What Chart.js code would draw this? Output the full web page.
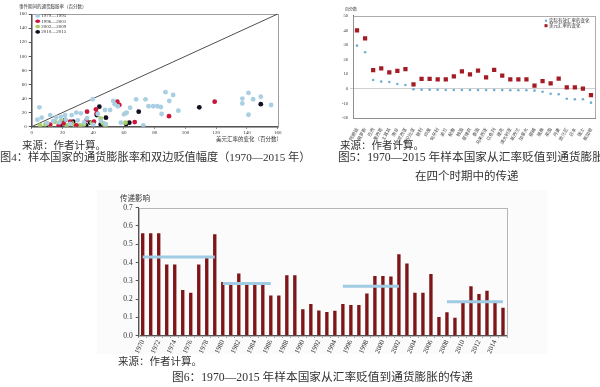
<!DOCTYPE html>
<html>
<head>
<meta charset="utf-8">
<script src="https://cdn.jsdelivr.net/npm/chart.js@4.4.1/dist/chart.umd.min.js"></script>
<style>
  body { margin: 0; width: 600px; height: 387px; background: #fff; position: relative; overflow: hidden;
         font-family: "Liberation Serif", "Noto Sans CJK SC", serif; color: #333; }
  .box { position: absolute; }
  .txt { position: absolute; white-space: nowrap; line-height: 1; }
</style>
</head>
<body>

<div class="box" style="left:97px;top:190px;width:450px;height:164px;background:#fbfbfb"></div>

<div class="box" style="left:0;top:0;width:290px;height:145px"><canvas id="scatterChart"></canvas></div>
<div class="box" style="left:300px;top:0;width:300px;height:145px"><canvas id="countryChart"></canvas></div>
<div class="box" style="left:100px;top:190px;width:420px;height:170px"><canvas id="passChart"></canvas></div>

<div class="txt" style="left:22px;top:141px;font-size:10.5px">来源：作者计算。</div>
<div class="txt" style="left:0;top:152px;font-size:11.2px">图4：样本国家的通货膨胀率和双边贬值幅度（1970—2015 年）</div>

<div class="txt" style="left:340px;top:141px;font-size:10.5px">来源：作者计算。</div>
<div class="txt" style="left:338px;top:152px;font-size:11.7px">图5：1970—2015 年样本国家从汇率贬值到通货膨胀</div>
<div class="txt" style="left:415px;top:171px;font-size:11.5px">在四个时期中的传递</div>

<div class="txt" style="left:118px;top:357px;font-size:10.5px">来源：作者计算。</div>
<div class="txt" style="left:172px;top:372px;font-size:11.7px">图6：1970—2015 年样本国家从汇率贬值到通货膨胀的传递</div>

<script>
/* =========================================================
   DATA
========================================================= */

// Fig 4 — [USD depreciation %, inflation %] per episode
const period7995 = [
  [5, 27.5], [3.7, 10], [6.5, 13], [12, 16.5], [16, 13], [19, 14], [21.7, 16.5], [26, 16.5],
  [29, 20], [32, 19], [39.7, 39], [43, 18], [47.7, 23.7], [51, 23.7], [53, 36.5], [54, 32],
  [56, 29], [58, 5.7], [60, 17.5], [61.8, 20], [64, 27], [67.9, 38.8], [74, 38.8], [72.6, 2],
  [76, 29], [79, 29], [81.7, 29], [84, 28], [84.5, 18], [87, 49], [89.5, 36.5], [92, 45],
  [95.4, 22.7], [137, 40], [137, 33], [141, 48], [141, 17], [144, 39], [149, 42.6], [155.7, 30.8],
  [10, 5], [14, 8], [18, 6], [22, 10], [25, 4], [30, 9], [34, 6], [36, 12], [40, 3], [45, 8], [48, 4]
];
const period9601 = [
  [55.7, 35.5], [57, 30.8], [36, 21.3], [41.8, 24.6], [42.3, 19], [67, 6.6], [89.3, 15], [119, 35.5],
  [20.6, 4.7], [25, 7], [29, 2], [35.8, 9.5], [40.5, 7], [12, 3], [17.5, 1.5]
];
const period0209 = [
  [44.9, 11.8], [61, 19], [61, 5.7], [31.4, 2], [15, 7], [19, 8], [22.6, 2], [26, 5.5],
  [28, 2], [39, 5.5], [46.5, 4.7], [9, 3.5], [12, 2], [5.5, 2], [34, 3], [48, 1.5]
];
const period1015 = [
  [44, 28.4], [48.3, 12.8], [42.3, 16.6], [69.6, 21.3], [109, 27.5], [149, 32], [61.4, 3.8],
  [63.5, 5.7], [44.9, 3.3], [38, 5.7], [35.3, 2], [21.7, 9.5], [18.4, 1.4], [10.8, 1.4], [27, 7]
];
const periodNames = ["1979—1995", "1996—2001", "2002—2009", "2010—2015"];
const diagonal = [0, 160];

// Fig 5 — per country
const countries = [
  "阿根廷", "俄罗斯", "巴西", "墨西哥", "土耳其", "南非", "印度尼西亚", "哥伦比亚", "智利", "印度",
  "匈牙利", "波兰", "秘鲁", "韩国", "菲律宾", "泰国", "马来西亚", "以色列", "捷克", "澳大利亚",
  "新西兰", "加拿大", "挪威", "瑞典", "英国", "丹麦", "欧元区", "日本", "瑞士", "新加坡"
];
const usdChange = [
  40, 34.5, 12.8, 14, 11.2, 12.2, 13.5, 3, 6.7, 6.7,
  6.5, 6.5, 8.5, 11.9, 9.9, 12.4, 7.8, 13, 9, 6.5,
  6.5, 6.5, 2.1, 5.3, 3.7, 6.9, 1, 1, 0.1, -4.3
];
const reerChange = [
  29.5, 25, 6, 4.9, 4.6, 3.3, 2.6, -0.4, -0.6, -0.6,
  -0.6, -0.8, -0.8, -0.8, -0.8, -0.9, -0.9, -0.9, -0.9, -1,
  -1, -1, -1.3, -2, -3.4, -3.8, -6.8, -7.2, -7.2, -9.5
];

// Fig 6 — pass-through by year
const years = [
  "1970", "1971", "1972", "1973", "1974", "1975", "1976", "1977", "1978", "1979",
  "1980", "1981", "1982", "1983", "1984", "1985", "1986", "1987", "1988", "1989",
  "1990", "1991", "1992", "1993", "1994", "1995", "1996", "1997", "1998", "1999",
  "2000", "2001", "2002", "2003", "2004", "2005", "2006", "2007", "2008", "2009",
  "2010", "2011", "2012", "2013", "2014", "2015"
];
const passThrough = [
  0.56, 0.56, 0.56, 0.39, 0.39, 0.25, 0.235, 0.39, 0.43, 0.555,
  0.293, 0.29, 0.34, 0.28, 0.28, 0.28, 0.22, 0.22, 0.33, 0.33,
  0.145, 0.173, 0.138, 0.129, 0.137, 0.173, 0.168, 0.168, 0.231, 0.326,
  0.326, 0.324, 0.446, 0.395, 0.235, 0.235, 0.337, 0.102, 0.128, 0.098,
  0.18, 0.27, 0.228, 0.246, 0.18, 0.153
];
const periodStart = ["1970", "1980", "1995", "2008"];
const periodEnd = ["1979", "1986", "2002", "2015"];
const periodMean = [0.43, 0.285, 0.27, 0.185];

/* =========================================================
   SMALL PLUGINS
========================================================= */

const SERIF = '"Liberation Serif", "Noto Sans CJK SC", serif';
const CJK = '"Noto Sans CJK SC", sans-serif';

// plain text notes (axis titles), canvas coords
function makeNotes(items) {
  return {
    id: "notes",
    afterDraw(chart) {
      const ctx = chart.ctx;
      items.forEach(n => {
        ctx.save();
        ctx.font = n.font;
        ctx.fillStyle = n.color || "#333";
        ctx.textAlign = n.align || "left";
        ctx.textBaseline = "middle";
        ctx.fillText(n.text, n.x, n.y);
        ctx.restore();
      });
    }
  };
}

// box around the plot area
function makeFrame(color, width) {
  return {
    id: "frame",
    beforeDatasetsDraw(chart) {
      const a = chart.chartArea, ctx = chart.ctx;
      ctx.save();
      ctx.strokeStyle = color;
      ctx.lineWidth = width;
      ctx.strokeRect(Math.round(a.left) + 0.5, Math.round(a.top) + 0.5,
        Math.round(a.right - a.left), Math.round(a.bottom - a.top));
      ctx.restore();
    }
  };
}

// legend inside the plot, offsets from the plot's top-left corner
function makeLegend(cfg) {
  return {
    id: "innerLegend",
    afterDraw(chart) {
      const ctx = chart.ctx;
      const a = chart.chartArea;
      const mx = a.left + cfg.dx;
      let row = 0;
      chart.data.datasets.forEach(ds => {
        if (!ds.label) return;
        const y = a.top + cfg.dy + row * cfg.step;
        ctx.save();
        ctx.fillStyle = ds.backgroundColor;
        if (ds.pointStyle === "rect") {
          ctx.fillRect(mx - 1.5, y - 1.5, 3, 3);
        } else {
          ctx.beginPath();
          ctx.ellipse(mx, y, cfg.mw, cfg.mh, 0, 0, Math.PI * 2);
          ctx.fill();
        }
        ctx.fillStyle = "#333";
        ctx.font = cfg.font;
        ctx.textAlign = "left";
        ctx.textBaseline = "middle";
        ctx.fillText(ds.label, mx + cfg.gap, y);
        ctx.restore();
        row++;
      });
    }
  };
}

/* =========================================================
   FIG 4 — SCATTER
========================================================= */

function toPoints(list) {
  return list.map(p => ({ x: p[0], y: p[1] }));
}

function initScatter() {
  const colors = ["#a9cfe3", "#c8173b", "#a7cf69", "#101022"];
  const groups = [period7995, period9601, period0209, period1015];

  const sets = groups.map((g, i) => ({
    label: periodNames[i],
    data: toPoints(g),
    backgroundColor: colors[i],
    borderWidth: 0,
    pointRadius: 2.4,
    order: 1
  }));

  sets.push({
    label: "",
    data: diagonal.map(v => ({ x: v, y: v })),
    showLine: true,
    borderColor: "#222",
    borderWidth: 0.8,
    pointRadius: 0,
    order: 2
  });

  new Chart(document.getElementById("scatterChart"), {
    type: "scatter",
    data: { datasets: sets },
    plugins: [
      makeFrame("#888", 0.8),
      makeLegend({ dx: 6, dy: 2, step: 5.3, gap: 3.5, mw: 2.4, mh: 1.8, font: "5px " + SERIF }),
      makeNotes([
        { text: "事件期间的通货膨胀率（百分数）", x: 19, y: 6, font: "4.5px " + CJK },
        { text: "美元汇率的变化（百分数）", x: 282, y: 139, align: "right", font: "5.5px " + CJK }
      ])
    ],
    options: {
      animation: false,
      responsive: true,
      maintainAspectRatio: false,
      layout: { padding: { top: 14, right: 12.3, left: 0, bottom: 0 } },
      scales: {
        x: {
          min: 0, max: 160,
          afterFit: s => { s.height = 18.3; },
          ticks: { stepSize: 20, font: { family: SERIF, size: 5 }, color: "#333", padding: 1 },
          grid: { drawOnChartArea: false, tickLength: 2, color: "#555" },
          border: { color: "#555" }
        },
        y: {
          min: 0, max: 160,
          afterFit: s => { s.width = 31.7; },
          ticks: { stepSize: 20, font: { family: SERIF, size: 5 }, color: "#333", padding: 2 },
          grid: { drawOnChartArea: false, tickLength: 3, color: "#555" },
          border: { color: "#555" }
        }
      },
      plugins: { legend: { display: false }, tooltip: { enabled: false } }
    }
  });
}

/* =========================================================
   FIG 5 — COUNTRY DOTS
========================================================= */

function initCountry() {
  new Chart(document.getElementById("countryChart"), {
    type: "line",
    data: {
      labels: countries,
      datasets: [
        {
          label: "实际有效汇率的变化",
          data: reerChange,
          showLine: false,
          backgroundColor: "#6fb0d2",
          borderWidth: 0,
          pointRadius: 1.3,
          pointStyle: "circle"
        },
        {
          label: "美元汇率的变化",
          data: usdChange,
          showLine: false,
          backgroundColor: "#a31b25",
          borderWidth: 0,
          pointRadius: 3,
          pointStyle: "rect"
        }
      ]
    },
    plugins: [
      makeFrame("#999", 0.8),
      makeLegend({ dx: 193, dy: 5, step: 5, gap: 3, mw: 1.2, mh: 1.2, font: "4.5px " + CJK }),
      makeNotes([{ text: "百分数", x: 45, y: 9, font: "4px " + CJK }])
    ],
    options: {
      animation: false,
      responsive: true,
      maintainAspectRatio: false,
      layout: { padding: { top: 15.7, right: 5, left: 0, bottom: 0 } },
      scales: {
        x: {
          offset: true,
          afterFit: s => { s.height = 27; },
          ticks: {
            autoSkip: false, minRotation: 60, maxRotation: 60,
            font: { family: CJK, size: 4.5 }, color: "#444", padding: 1
          },
          grid: { display: false },
          border: { color: "#666" }
        },
        y: {
          min: -20, max: 50,
          afterFit: s => { s.width = 53; },
          ticks: { stepSize: 10, font: { family: SERIF, size: 4.5 }, color: "#333", padding: 2 },
          grid: {
            drawOnChartArea: true, tickLength: 3,
            color: c => (c.tick && c.tick.value === 0 ? "#cfcfcf" : "rgba(0,0,0,0)")
          },
          border: { color: "#666" }
        }
      },
      plugins: { legend: { display: false }, tooltip: { enabled: false } }
    }
  });
}

/* =========================================================
   FIG 6 — PASS-THROUGH BARS
========================================================= */

function initPass() {
  const means = periodMean.map((m, i) => ({
    type: "line",
    data: [{ x: periodStart[i], y: m }, { x: periodEnd[i], y: m }],
    borderColor: "#9fcbe3",
    borderWidth: 3,
    pointRadius: 0,
    order: 1
  }));

  new Chart(document.getElementById("passChart"), {
    type: "bar",
    data: {
      labels: years,
      datasets: [
        {
          data: passThrough,
          backgroundColor: "#7d1519",
          barPercentage: 0.42,
          categoryPercentage: 1,
          order: 2
        },
        ...means
      ]
    },
    plugins: [
      makeFrame("#b5b5b5", 1),
      makeNotes([{ text: "传递影响", x: 20, y: 8, font: "7.5px " + CJK }])
    ],
    options: {
      animation: false,
      responsive: true,
      maintainAspectRatio: false,
      layout: { padding: { top: 17.7, right: 13, left: 0, bottom: 0 } },
      scales: {
        x: {
          afterFit: s => { s.height = 24.3; },
          ticks: {
            autoSkip: false, minRotation: 65, maxRotation: 65,
            font: { family: SERIF, size: 7 }, color: "#333", padding: 1,
            callback: (v, i) => (i % 2 === 0 ? years[i] : "")
          },
          grid: { drawOnChartArea: false, tickLength: 2, color: "#666" },
          border: { color: "#555" }
        },
        y: {
          min: 0, max: 0.7,
          afterFit: s => { s.width = 38.7; },
          ticks: {
            stepSize: 0.1, font: { family: SERIF, size: 7.5 }, color: "#333", padding: 3,
            callback: v => v.toFixed(1)
          },
          grid: { drawOnChartArea: false, tickLength: 3, color: "#555" },
          border: { color: "#555" }
        }
      },
      plugins: { legend: { display: false }, tooltip: { enabled: false } }
    }
  });
}

/* =========================================================
   INIT
========================================================= */

initScatter();
initCountry();
initPass();
</script>
</body>
</html>
